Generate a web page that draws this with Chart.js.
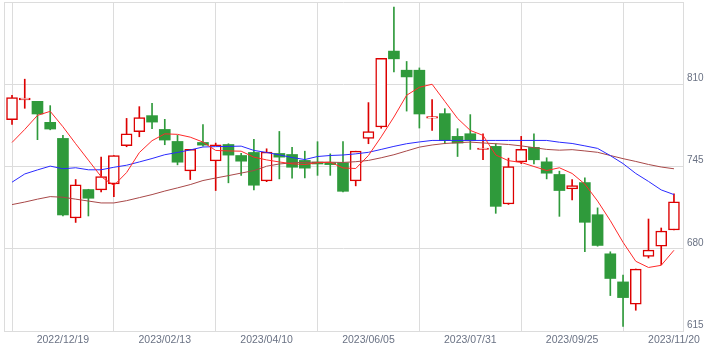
<!DOCTYPE html>
<html>
<head>
<meta charset="utf-8">
<script src="https://cdn.jsdelivr.net/npm/chart.js@4.4.1/dist/chart.umd.min.js"></script>
<style>
html, body { margin: 0; padding: 0; background: #fff; }
</style>
</head>
<body>
<canvas id="candleChart" width="723" height="350"></canvas>
<script>
// weekly candles, 2022/11/21 .. 2023/11/20
const opens = [782, 797.7, 796.5, 779.9, 767.2, 704.3, 726.8, 726.5, 731.3, 761.4, 772.5, 785.2, 774.3, 764.8, 741.6, 764, 749.5, 762.4, 753.7, 756.1, 733.7, 755.3, 754.5, 749.8, 748.5, 748, 748, 733.7, 767.2, 776.2, 836.2, 821.1, 821.1, 783.2, 786.8, 768.8, 770.9, 758.4, 760.9, 715.4, 748.7, 760.1, 748.7, 738.7, 727.3, 732.3, 706.9, 676, 653.8, 636.2, 673.9, 682.1, 694.8];
const highs = [801.3, 814, 796.5, 793.1, 769.6, 734.7, 727, 752.4, 753.7, 783, 792.3, 794.9, 782.3, 769.6, 758.5, 778.1, 763.5, 763, 755.5, 766.4, 759, 772.7, 760.1, 757.1, 764.6, 755, 764.6, 757.1, 795.5, 830.4, 871, 828, 822.9, 797.9, 790.7, 774.9, 786, 770.9, 763, 751.6, 768.8, 770.9, 751.9, 741.3, 734.7, 736, 712.3, 677.6, 659.2, 664, 703.5, 696.4, 723.4];
const lows = [778.3, 791, 766.2, 774, 706, 700.8, 705.9, 725, 721.2, 760.6, 768.5, 774.9, 762.2, 746.3, 734.7, 761, 726, 732.1, 737.9, 726.5, 733, 735.2, 735.7, 736, 738, 738, 725, 729.7, 763, 775.2, 819.8, 788.8, 775.4, 773.5, 763, 752.9, 758.5, 750.3, 708, 715, 747.3, 747.1, 735.2, 705.6, 718.6, 677.6, 682, 643, 618.7, 631.4, 672.7, 667.3, 694.8];
const closes = [799.5, 799.1, 786.5, 774.6, 706.7, 730.5, 719.9, 737.1, 753.7, 770.9, 783.6, 780.1, 765.9, 748.4, 758.5, 761.9, 762.2, 754, 749.2, 730.2, 756.3, 752.4, 744.4, 743.7, 747, 746.5, 725.4, 757.1, 772.5, 830.4, 830.1, 815.8, 786.5, 784.4, 765.4, 763.5, 765.6, 759.6, 713.5, 745, 758.5, 750.3, 739.7, 726, 730, 700.9, 682.6, 656.5, 641.4, 663.9, 678.9, 694, 717];

// moving average lines
const maShort = [764, 774.3, 785.4, 788.6, 776.4, 763, 750, 737, 730, 740.2, 756, 765.4, 770.8, 770.4, 768.2, 764.3, 757.7, 757.3, 757.1, 752.4, 750.2, 748.6, 747.1, 746.6, 748, 748.4, 743.9, 743.4, 753.7, 768.4, 784.1, 801.3, 807.6, 810, 796.5, 783, 773.5, 769.6, 754.1, 749.6, 748.2, 745, 741.8, 744, 739.5, 731.1, 717.7, 702.2, 685.1, 670.1, 665.2, 666.9, 678.8];
const maMid = [732.6, 739.1, 742.3, 745.3, 743.2, 744, 742.4, 742.4, 744.4, 746, 748.6, 751.3, 754.3, 756.1, 758.1, 760.4, 760.7, 760.9, 761.1, 757.7, 756.1, 754.2, 752.1, 750.5, 752.9, 753.7, 754.1, 755, 756.2, 758.5, 760.9, 763, 764.4, 765.6, 765.6, 765.6, 765.6, 765.6, 765.6, 765.6, 765.6, 765.6, 765.6, 764.2, 763.2, 761.3, 759.3, 753.6, 747.3, 739.5, 733.2, 726.5, 722.8];
const maLong = [714.9, 716.9, 719.2, 721.2, 720.7, 719.2, 717.7, 716.2, 716.2, 718, 720.4, 722.8, 725.6, 728.1, 730.7, 733.9, 735.9, 737.8, 739.8, 741.8, 745.2, 747, 747.9, 748.3, 748.4, 748.4, 748.2, 748.8, 749.8, 751.9, 754.3, 757.3, 760.3, 762, 763.2, 763.8, 764.3, 763.6, 763, 762.4, 761.3, 759.9, 758.5, 757.9, 758.3, 757.3, 756.2, 753.7, 751.2, 749, 746.6, 744.6, 743.2];

const tickIndex = [4, 12, 20, 28, 36, 44, 52];
const tickLabels = ['2022/12/19', '2023/02/13', '2023/04/10', '2023/06/05', '2023/07/31', '2023/09/25', '2023/11/20'];
const yTicks = [615, 680, 745, 810, 875];

const upColor = '#dd0000';
const downColor = '#2f9a3b';
const gridColor = '#dcdcdc';
const labelColor = '#6a7284';

const isUp = i => closes[i] >= opens[i];
const wickData = opens.map((o, i) => ({ x: i, y: [lows[i], highs[i]] }));
const bodyData = opens.map((o, i) => ({ x: i, y: [o, closes[i]] }));
const lineData = arr => arr.map((v, i) => ({ x: i, y: v }));

// left edge of the plot frame
const frameLeft = {
    id: 'frameLeft',
    afterDraw(chart) {
        const { ctx, chartArea } = chart;
        ctx.save();
        ctx.strokeStyle = gridColor;
        ctx.lineWidth = 1;
        ctx.beginPath();
        ctx.moveTo(Math.round(chartArea.left) + 0.5, chartArea.top);
        ctx.lineTo(Math.round(chartArea.left) + 0.5, chartArea.bottom);
        ctx.stroke();
        ctx.restore();
    }
};

const noPad = s => {
    s.paddingTop = 0;
    s.paddingBottom = 0;
    s.paddingLeft = 0;
    s.paddingRight = 0;
};

const ctx = document.getElementById('candleChart').getContext('2d');
new Chart(ctx, {
    type: 'bar',
    data: {
        datasets: [
            {
                type: 'line', data: lineData(maShort), borderColor: '#ff2a2a', borderWidth: 1,
                pointRadius: 0, tension: 0, order: 0
            },
            {
                type: 'line', data: lineData(maMid), borderColor: '#2a2aff', borderWidth: 1,
                pointRadius: 0, tension: 0, order: 0
            },
            {
                type: 'line', data: lineData(maLong), borderColor: '#a84848', borderWidth: 1,
                pointRadius: 0, tension: 0, order: 0
            },
            {
                data: bodyData,
                backgroundColor: opens.map((o, i) => isUp(i) ? '#ffffff' : downColor),
                borderColor: opens.map((o, i) => isUp(i) ? upColor : downColor),
                borderWidth: opens.map((o, i) => isUp(i) ? 1.5 : 0),
                borderSkipped: false,
                barThickness: 11,
                grouped: false,
                order: 1
            },
            {
                data: wickData,
                backgroundColor: opens.map((o, i) => isUp(i) ? upColor : downColor),
                borderWidth: 0,
                barThickness: 1,
                grouped: false,
                order: 2
            }
        ]
    },
    options: {
        responsive: false,
        animation: false,
        devicePixelRatio: 1,
        layout: { padding: { left: 4, top: 2, right: 0, bottom: 0 } },
        plugins: { legend: { display: false }, tooltip: { enabled: false } },
        scales: {
            x: {
                type: 'linear',
                min: -0.63,
                max: 52.71,
                offset: false,
                afterBuildTicks: s => { s.ticks = tickIndex.map(v => ({ value: v })); },
                afterFit: s => { s.height = 19; noPad(s); },
                grid: { color: gridColor, drawTicks: false },
                border: { color: gridColor },
                ticks: {
                    autoSkip: false,
                    maxRotation: 0,
                    padding: 3,
                    color: labelColor,
                    font: { family: 'Liberation Sans', size: 10.5 },
                    callback: v => tickLabels[tickIndex.indexOf(v)]
                }
            },
            y: {
                position: 'right',
                min: 615,
                max: 875,
                afterBuildTicks: s => { s.ticks = yTicks.map(v => ({ value: v })); },
                afterFit: s => { s.width = 40; noPad(s); },
                grid: { color: gridColor, drawTicks: false },
                border: { color: gridColor },
                ticks: {
                    padding: 4,
                    labelOffset: -6,
                    color: labelColor,
                    font: { family: 'Liberation Sans', size: 10 },
                    callback: v => v === 875 ? '' : v
                }
            }
        }
    },
    plugins: [frameLeft]
});
</script>
</body>
</html>
